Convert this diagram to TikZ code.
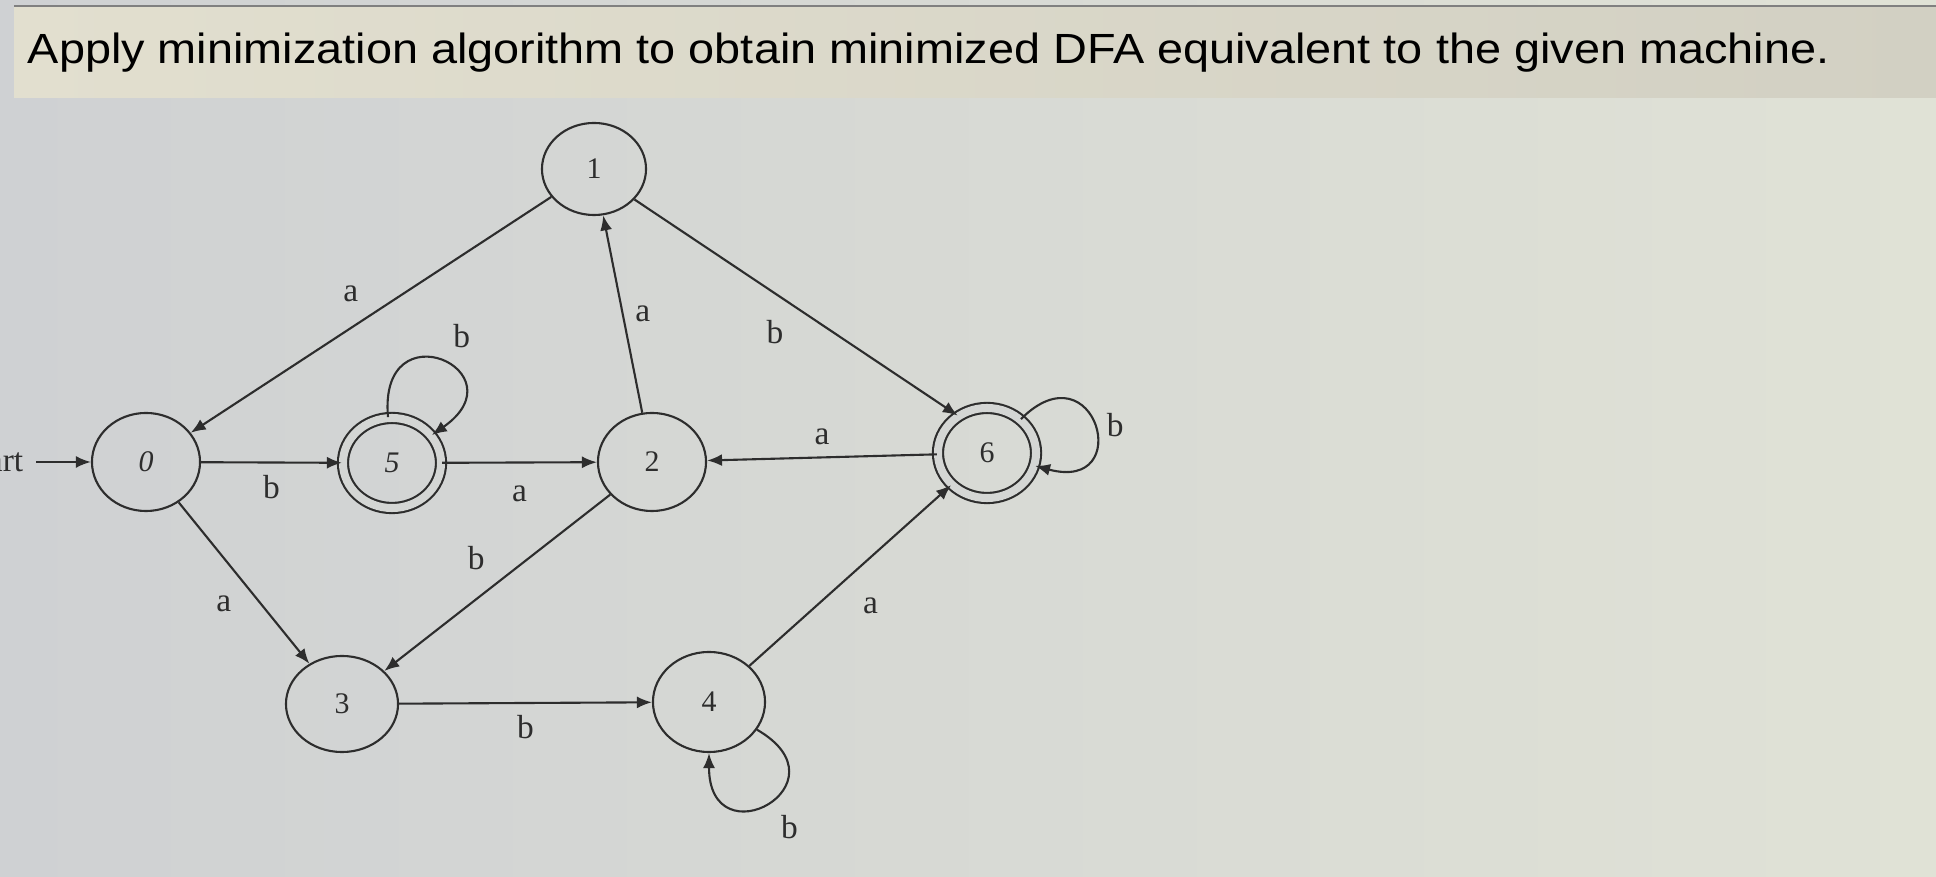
\documentclass[tikz,border=0pt]{standalone}
\usepackage{fontspec}
\setmainfont{Liberation Serif}
\newfontfamily\titlefont{Liberation Sans}
\usetikzlibrary{shapes.geometric,arrows.meta}
\definecolor{bgleft}{RGB}{207,209,211}
\definecolor{bgright}{RGB}{224,226,214}
\definecolor{bandleft}{RGB}{226,223,207}
\definecolor{bandright}{RGB}{210,208,195}
\definecolor{paper}{RGB}{212,214,212}
\definecolor{ink}{RGB}{45,45,45}

\begin{document}
\begin{tikzpicture}[x=0.01cm, y=0.01cm, line width=0.6pt, draw=ink,
  >={Latex[length=1.5mm,width=1.2mm]},
  main/.style = {draw, ellipse, minimum width=1.08cm, minimum height=0.98cm, inner sep=0pt, text=ink, font=\fontsize{8.5}{10}\selectfont},
  accept/.style = {main, double=paper, double distance=0.8mm, minimum width=0.98cm, minimum height=0.9cm},
  lbl/.style = {text=ink, font=\fontsize{9.5}{11}\selectfont}]
\useasboundingbox (0,0) rectangle (1936,-877);
% photo background
\shade[left color=bgleft, right color=bgright] (0,0) rectangle (1936,-877);
\shade[left color=bandleft, right color=bandright] (14,-6) rectangle (1936,-98);
\draw[gray, line width=0.8pt] (14,-6) -- (1936,-6);
\node[anchor=base west, text=black] (title) at (15,-64) {\titlefont\fontsize{12}{14}\selectfont\scalebox{1.11}[1]{Apply minimization algorithm to obtain minimized DFA equivalent to the given machine.}};

% states
\node[main] (0) at (146,-462) {\textit{0}};
\node[main, minimum width=1.04cm, minimum height=0.92cm] (1) at (594,-169) {1};
\node[main] (2) at (652,-462) {2};
\node[main, minimum width=1.12cm, minimum height=0.96cm] (3) at (342,-704) {3};
\node[main, minimum width=1.12cm, minimum height=1.0cm] (4) at (709,-702) {4};
\node[accept] (5) at (392,-463) {\textit{5}};
\node[accept] (6) at (987,-453) {6};
\node[lbl, anchor=east] (start) at (36,-462) {start};

% transitions
\draw[->] (start) -- (0);
\draw[->] (0) -- node[lbl, below] {b} (5);
\draw[->] (5) -- node[lbl, below=3pt] {a} (2);
\draw[->] (6) -- node[lbl, above] {a} (2);
\draw[->] (3) -- node[lbl, below] {b} (4);
\draw[->] (1) -- node[lbl, above left] {a} (0);
\draw[->] (2) -- node[lbl, right] {a} (1);
\draw[->] (1.-37) -- node[lbl, below left] {b} (6.128);
\draw[->] (2) -- node[lbl, above left] {b} (3);
\draw[->] (0) -- node[lbl, below left] {a} (3);
\draw[->] (4) -- node[lbl, below right, yshift=-1mm] {a} (6);
\draw[->] (5) to[out=95, in=35, looseness=6] node[lbl, above right] {b} (5);
\draw[->] (6) to[out=45, in=-15, looseness=5.5] node[lbl, right] {b} (6);
\draw[->] (4) to[out=-30, in=-90, looseness=5.2] node[lbl, below right] {b} (4);
\end{tikzpicture}
\end{document}
